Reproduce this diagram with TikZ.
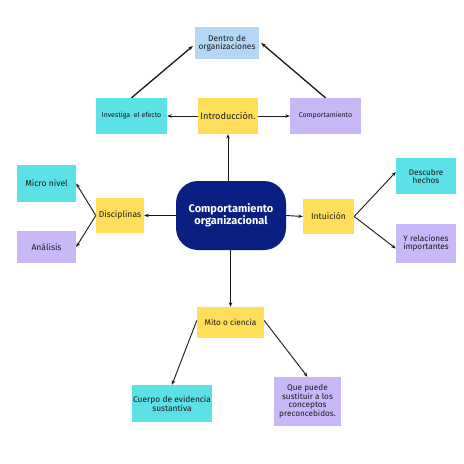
\documentclass[tikz,border=0pt]{standalone}
\usepackage{fontspec}
\setmainfont{Fira Sans}
\usetikzlibrary{arrows.meta}
\definecolor{cyanbox}{HTML}{5CE1E6}
\definecolor{yellowbox}{HTML}{FFDE59}
\definecolor{lavbox}{HTML}{C9B8F8}
\definecolor{bluebox}{HTML}{B4D7F5}
\definecolor{navy}{HTML}{0A1F82}
\tikzset{
  box/.style={rectangle, inner sep=1pt, align=center, text=black!90, font=\fontsize{8.2}{8}\selectfont},
  conn/.style={-{Stealth[length=4.5pt,width=3.5pt]}, line width=0.9pt, black!90},
}
\begin{document}
\begin{tikzpicture}[x=1pt,y=-1pt]
\useasboundingbox (0,0) rectangle (464,464);
\fill[white] (0,0) rectangle (464,464);
% nodes
\node[box, fill=bluebox, minimum width=64pt, minimum height=32pt, font=\fontsize{8.4}{8}\selectfont] (dentro) at (227,43) {Dentro de\\organizaciones};
\node[box, fill=cyanbox, minimum width=71pt, minimum height=36pt, font=\fontsize{7}{7}\selectfont] (invest) at (131.5,116) {Investiga\ \ el efecto};
\node[box, fill=yellowbox, minimum width=60pt, minimum height=36pt, font=\fontsize{9.2}{9}\selectfont] (intro) at (228,116) {Introducción.};
\node[box, fill=lavbox, minimum width=71pt, minimum height=36pt, font=\fontsize{7}{7}\selectfont] (comp) at (325.5,116) {Comportamiento};
\node[rectangle, rounded corners=22pt, fill=navy, text=white, align=center, minimum width=110pt, minimum height=69pt, font=\bfseries\fontsize{11}{12}\selectfont] (central) at (231,215.5) {Comportamiento\\organizacional};
\node[box, fill=yellowbox, minimum width=48pt, minimum height=35pt, font=\fontsize{8.6}{8}\selectfont] (disc) at (120,215.5) {Disciplinas};
\node[box, fill=cyanbox, minimum width=59pt, minimum height=37pt, font=\fontsize{8.6}{8}\selectfont] (micro) at (46.5,183.5) {Micro nivel};
\node[box, fill=lavbox, minimum width=59pt, minimum height=32pt, font=\fontsize{8.6}{8}\selectfont] (anal) at (46.5,247) {Análisis};
\node[box, fill=yellowbox, minimum width=51pt, minimum height=35pt, font=\fontsize{8.6}{8}\selectfont] (intu) at (328.5,216.5) {Intuición};
\node[box, fill=cyanbox, minimum width=60pt, minimum height=36pt] (desc) at (426,176) {Descubre\\hechos};
\node[box, fill=lavbox, minimum width=60pt, minimum height=39pt] (yrel) at (426,243.5) {Y relaciones\\importantes};
\node[box, fill=yellowbox, minimum width=67pt, minimum height=31pt, font=\fontsize{8.2}{8}\selectfont] (mito) at (230.5,322.5) {Mito o ciencia};
\node[box, fill=cyanbox, minimum width=80pt, minimum height=37pt, font=\fontsize{8.4}{8}\selectfont] (cuerpo) at (172,403.5) {Cuerpo de evidencia\\sustantiva};
\node[box, fill=lavbox, minimum width=67pt, minimum height=49pt, font=\fontsize{8.2}{7.6}\selectfont] (que) at (307.5,401.5) {Que puede\\sustituir a los\\conceptos\\preconcebidos.};
% connectors
\draw[conn] (central.north -| intro) -- (intro.south);
\draw[conn] (intro.west) -- (invest.east);
\draw[conn] (intro.east) -- (comp.west);
\draw[conn, line width=1.3pt] (invest.north) -- ([shift={(-2pt,-3pt)}]dentro.west);
\draw[conn, line width=1.3pt] (comp.north) -- ([xshift=2pt]dentro.east);
\draw[conn] (central.west) -- (disc.east);
\draw[conn] (disc.west) -- (micro.east);
\draw[conn] (disc.west) -- (anal.east);
\draw[conn] (central.east) -- (intu.west);
\draw[conn] (intu.east) -- ([yshift=4pt]desc.west);
\draw[conn] (intu.east) -- ([yshift=-5pt]yrel.west);
\draw[conn] (central.south -| mito) -- (mito.north);
\draw[conn] ([yshift=2pt]mito.west) -- (cuerpo.north);
\draw[conn] ([yshift=2pt]mito.east) -- (que.north);
\end{tikzpicture}
\end{document}
